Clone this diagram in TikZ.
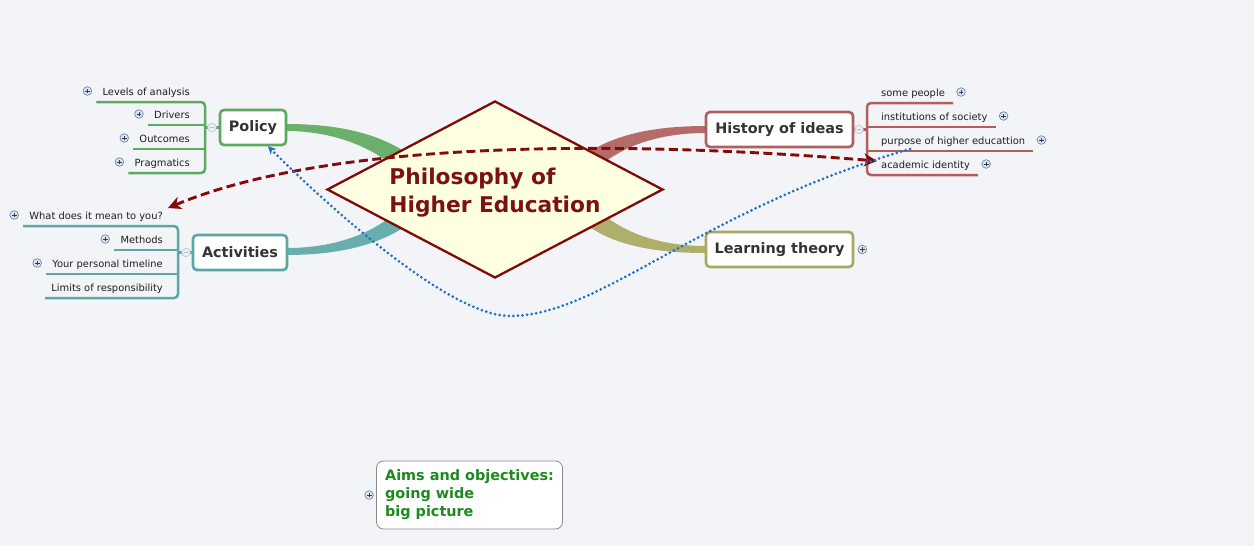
\documentclass[tikz,border=0pt]{standalone}
\usepackage{fontspec}
\setmainfont{DejaVu Sans}
\usetikzlibrary{arrows.meta,shapes.geometric}
\definecolor{bgc}{HTML}{F3F4F8}
\definecolor{dred}{HTML}{7F0A0A}
\definecolor{ctext}{HTML}{7A1212}
\definecolor{dfill}{HTML}{FFFFE2}
\definecolor{headtext}{HTML}{333333}
\definecolor{subtext}{HTML}{1E1E1E}
\definecolor{polc}{HTML}{5DA95D}
\definecolor{actc}{HTML}{5BA7A6}
\definecolor{hisc}{HTML}{B05E5E}
\definecolor{lrnc}{HTML}{A8A85E}
\definecolor{dashc}{HTML}{850A0A}
\definecolor{dotc}{HTML}{1F6FC5}
\definecolor{aimc}{HTML}{1C8A1C}
\definecolor{aimborder}{HTML}{8A8A8A}
\definecolor{icofill}{HTML}{DCE4EE}
\definecolor{icoline}{HTML}{7088A6}
\definecolor{icosign}{HTML}{2F3A55}
\begin{document}
\begin{tikzpicture}[x=1pt,y=-1pt,
  sub/.style={font=\fontsize{9.9}{12}\selectfont, text=subtext, inner sep=0pt},
  topic/.style={draw=#1, line width=2.6pt, rounded corners=4pt, fill=white,
    font=\bfseries\fontsize{14.4}{17}\selectfont, text=headtext, minimum height=35pt, inner sep=0pt},
  branch/.style={draw=#1, line width=2.5pt},
  plusic/.pic={\draw[fill=icofill,draw=icoline,line width=0.7pt] (0,0) circle[radius=4.3pt];
    \draw[icosign,line width=0.9pt] (-2.4pt,0)--(2.4pt,0) (0,-2.4pt)--(0,2.4pt);},
  minusic/.pic={\draw[fill=icofill!60!white,draw=icoline!45!white,line width=0.7pt] (0,0) circle[radius=4.3pt];
    \draw[icoline!55!white,line width=0.9pt] (-2.4pt,0)--(2.4pt,0);}
]
\fill[bgc] (0,0) rectangle (1254,546);
\useasboundingbox (0,0) rectangle (1254,546);

% tapered branches
\fill[polc!92!white] (286,124) .. controls (345,124) and (398,136) .. (430,174) -- (414,186) .. controls (386,152) and (340,131) .. (286,131) -- cycle;
\fill[actc!92!white] (287,255) .. controls (345,255) and (398,242) .. (428,206) -- (412,195) .. controls (386,230) and (340,248) .. (287,248) -- cycle;
\fill[hisc!92!white] (706,126) .. controls (650,126) and (598,136) .. (568,170) -- (584,182) .. controls (610,150) and (652,133) .. (706,133) -- cycle;
\fill[lrnc!92!white] (706,246) .. controls (655,246) and (615,230) .. (590,202) -- (574,214) .. controls (603,244) and (650,253) .. (706,253) -- cycle;

% central topic
\node[diamond, draw=dred, line width=2.3pt, fill=dfill, minimum width=336pt, minimum height=177pt, inner sep=0pt] (core) at (495,189.5) {};
\node[text=ctext, font=\bfseries\fontsize{21.7}{28}\selectfont, align=left, inner sep=0pt] (coretext) at (495,192.3) {Philosophy of\\Higher Education};

% main topics
\node[topic=polc, minimum width=66pt] (policy) at (253,127.5) {Policy};
\node[topic=actc, minimum width=94pt] (activities) at (240,252.5) {Activities};
\node[topic=hisc, minimum width=147pt] (history) at (779.5,129.5) {History of ideas};
\node[topic=lrnc, minimum width=147pt] (learning) at (779.5,249.5) {Learning theory};

% policy subtopics
\node[sub, anchor=base east] (levels) at (190,95.5) {Levels of analysis};
\node[sub, anchor=base east] (drivers) at (190,118.5) {Drivers};
\node[sub, anchor=base east] (outcomes) at (190,142.5) {Outcomes};
\node[sub, anchor=base east] (prag) at (190,166.5) {Pragmatics};
\draw[branch=polc, rounded corners=4pt] ([xshift=-6pt,yshift=-6.5pt]levels.base west) -- (205,102) -- (205,173) -- ([xshift=-6pt,yshift=-6.5pt]prag.base west);
\draw[branch=polc] ([xshift=-6pt,yshift=-6.5pt]drivers.base west) -- (205,125);
\draw[branch=polc] ([xshift=-6pt,yshift=-6.5pt]outcomes.base west) -- (205,149);
\draw[branch=polc] (205,127.5) -- (policy.west);
\pic at (212,127.5) {minusic};
\foreach \n in {levels,drivers,outcomes,prag}
  \pic at ([xshift=-15pt,yshift=4.5pt]\n.base west) {plusic};

% activities subtopics
\node[sub, anchor=base east] (what) at (163,219.5) {What does it mean to you?};
\node[sub, anchor=base east] (methods) at (163,243.5) {Methods};
\node[sub, anchor=base east] (timeline) at (163,267.5) {Your personal timeline};
\node[sub, anchor=base east] (limits) at (163,291.5) {Limits of responsibility};
\draw[branch=actc, rounded corners=4pt] ([xshift=-6pt,yshift=-6.5pt]what.base west) -- (178,226) -- (178,298) -- ([xshift=-6pt,yshift=-6.5pt]limits.base west);
\draw[branch=actc] ([xshift=-6pt,yshift=-6.5pt]methods.base west) -- (178,250);
\draw[branch=actc] ([xshift=-6pt,yshift=-6.5pt]timeline.base west) -- (178,274);
\draw[branch=actc] (178,252.5) -- (activities.west);
\pic at (186,252.5) {minusic};
\foreach \n in {what,methods,timeline}
  \pic at ([xshift=-15pt,yshift=4.5pt]\n.base west) {plusic};

% history subtopics
\node[sub, anchor=base west] (some) at (881,96.5) {some people};
\node[sub, anchor=base west] (inst) at (881,120.5) {institutions of society};
\node[sub, anchor=base west] (purp) at (881,144.5) {purpose of higher educattion};
\node[sub, anchor=base west] (acad) at (881,168.5) {academic identity};
\draw[branch=hisc, rounded corners=4pt] ([xshift=8pt,yshift=-6.5pt]some.base east) -- (867,103) -- (867,175) -- ([xshift=8pt,yshift=-6.5pt]acad.base east);
\draw[branch=hisc] ([xshift=8pt,yshift=-6.5pt]inst.base east) -- (867,127);
\draw[branch=hisc] ([xshift=8pt,yshift=-6.5pt]purp.base east) -- (867,151);
\draw[branch=hisc] (history.east) -- (867,129.5);
\pic at (859,129.5) {minusic};
\foreach \n in {some,inst,purp,acad}
  \pic at ([xshift=16pt,yshift=4.5pt]\n.base east) {plusic};

% learning theory collapsed
\pic at ([xshift=8pt]learning.east) {plusic};

% floating topic
\node[draw=aimborder, line width=0.8pt, rounded corners=7pt, fill=white, text=aimc,
  font=\bfseries\fontsize{14.4}{18}\selectfont, align=left, minimum width=186pt, minimum height=68pt, inner sep=0pt]
  (aims) at (469.5,495) {Aims and objectives:\\going wide\\big picture};
\pic at ([xshift=-7pt]aims.west) {plusic};

% relationships
\coordinate (dashL) at (168,208);
\coordinate (dashR) at (877,161);
\draw[dashc, line width=2.9pt, dash pattern=on 9pt off 4.5pt,
  {Stealth[length=13pt,width=13pt,inset=4pt]}-{Stealth[length=13pt,width=13pt,inset=4pt]}]
  (dashL) .. controls (330,140) and (620,140) .. (dashR);
\coordinate (dotS) at (910,149);
\draw[dotc, line width=3pt, line cap=round, dash pattern=on 0pt off 4.6pt, -{Stealth[length=8pt,width=8pt]}]
  (dotS) .. controls (700,210) and (600,316) .. (510,316) .. controls (450,316) and (330,208) .. ([xshift=15pt]policy.south);
\end{tikzpicture}
\end{document}
